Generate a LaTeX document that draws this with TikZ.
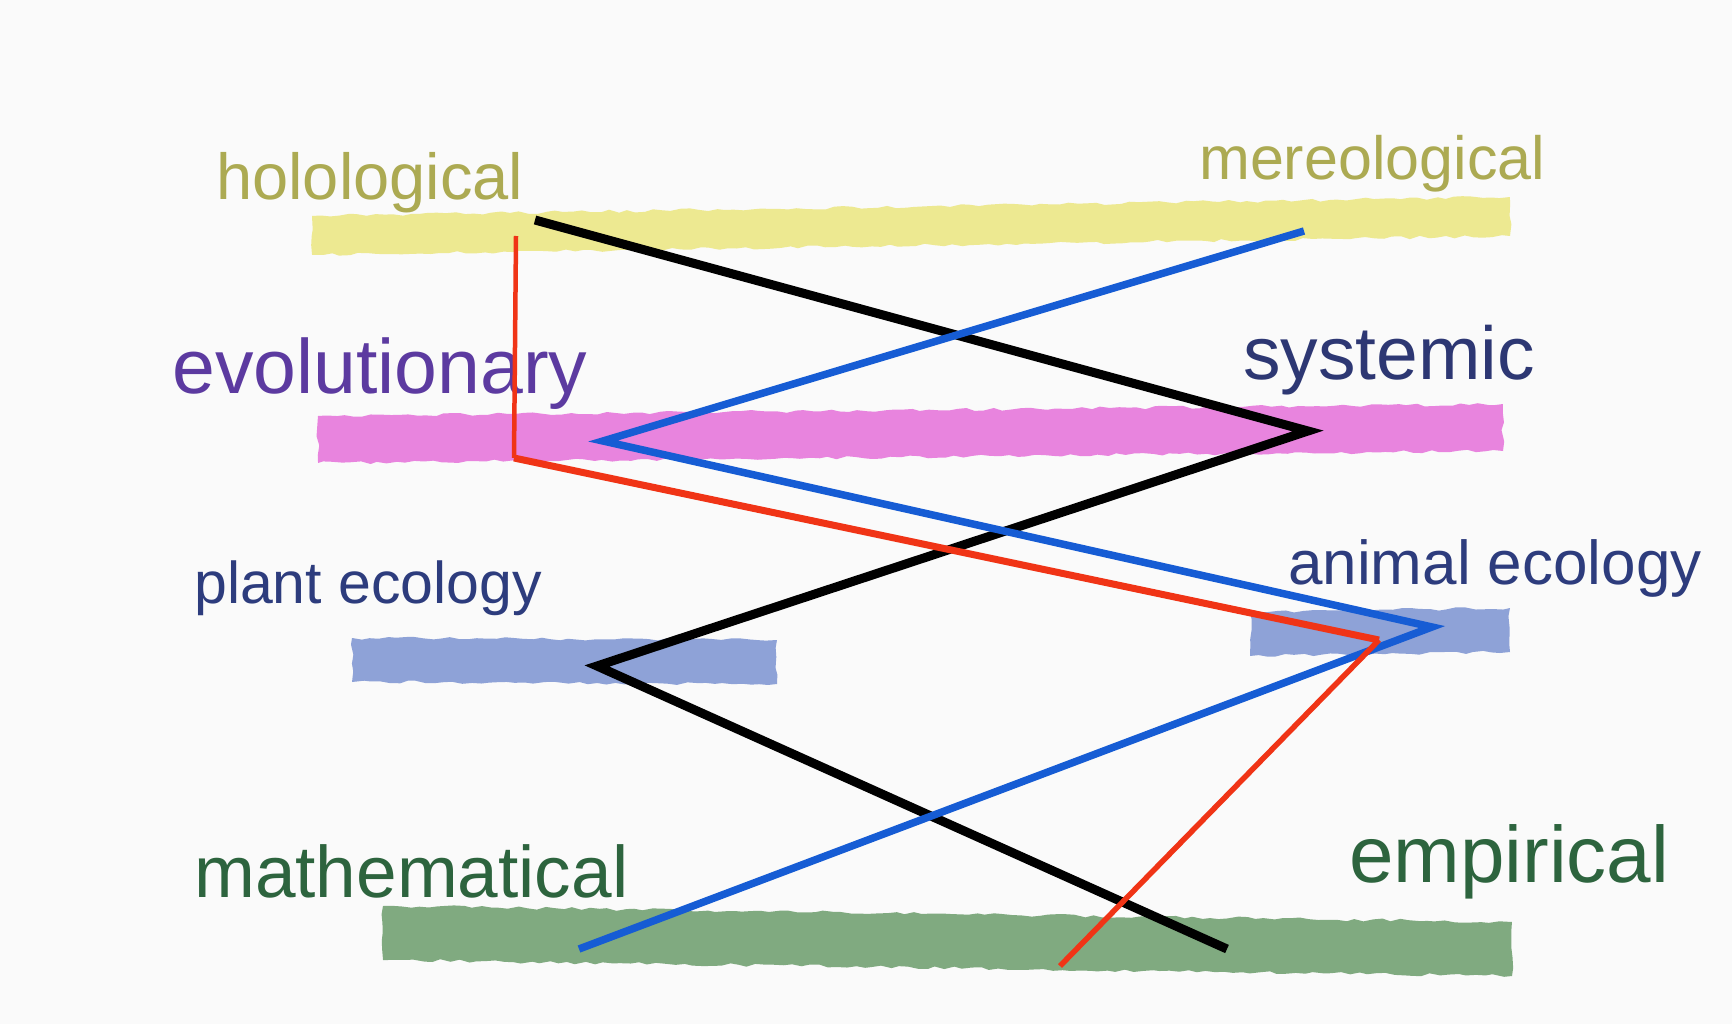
\documentclass[tikz,border=0pt]{standalone}
\usepackage{fontspec}
\usetikzlibrary{decorations.pathmorphing}
\setmainfont{Liberation Sans}
\definecolor{paper}{RGB}{250,250,250}
\definecolor{holoband}{RGB}{237,233,145}
\definecolor{holotext}{RGB}{172,170,82}
\definecolor{evoband}{RGB}{232,132,222}
\definecolor{evotext}{RGB}{92,58,160}
\definecolor{systext}{RGB}{45,55,115}
\definecolor{ecoband}{RGB}{142,162,215}
\definecolor{ecotext}{RGB}{45,60,125}
\definecolor{mathband}{RGB}{128,170,128}
\definecolor{mathtext}{RGB}{45,100,62}
\definecolor{linkblue}{RGB}{22,92,212}
\definecolor{linkred}{RGB}{240,52,22}
\begin{document}
\begin{tikzpicture}[x=1pt,y=-1pt,
    crayon/.style={decorate, decoration={random steps, segment length=9pt, amplitude=1.6pt}},
    lab/.style={anchor=west, inner sep=0pt},
    link/.style={line join=miter, line cap=butt}]
    \pgfmathsetseed{7}
    \fill[paper] (0,0) rectangle (1732,1024);
    % coloured bands
    \fill[crayon, holoband] (312,216) -- (1510,197) -- (1510,236) -- (312,255) -- cycle;
    \fill[crayon, evoband] (318,416) -- (1503,404) -- (1503,451) -- (318,463) -- cycle;
    \fill[crayon, ecoband] (352,638) -- (777,640) -- (777,684) -- (352,682) -- cycle;
    \fill[crayon, ecoband] (1250,612) -- (1510,608) -- (1510,652) -- (1250,656) -- cycle;
    \fill[crayon, mathband] (383,906) -- (1512,922) -- (1512,976) -- (383,960) -- cycle;
    % labels
    \node[lab, holotext] (holo) at (216,183) {\fontsize{65}{70}\selectfont holological};
    \node[lab, holotext] (mereo) at (1199,164) {\fontsize{61}{66}\selectfont mereological};
    \node[lab, evotext] (evo) at (172,374) {\fontsize{77}{82}\selectfont evolutionary};
    \node[lab, systext] (sys) at (1243,360) {\fontsize{75}{80}\selectfont systemic};
    \node[lab, ecotext] (plant) at (194,588) {\fontsize{59}{64}\selectfont plant ecology};
    \node[lab, ecotext] (animal) at (1288,568) {\fontsize{62}{67}\selectfont animal ecology};
    \node[lab, mathtext] (math) at (194,871) {\fontsize{73}{78}\selectfont mathematical};
    \node[lab, mathtext] (emp) at (1349,862) {\fontsize{80}{85}\selectfont empirical};
    % points where the links meet the bands
    \coordinate (k1) at (535,220);
    \coordinate (k2) at (1308,431);
    \coordinate (k3) at (597,666);
    \coordinate (k4) at (1227,949);
    \coordinate (b1) at (1304,231);
    \coordinate (b2) at (603,441);
    \coordinate (b3) at (1432,627);
    \coordinate (b4) at (579,949);
    \coordinate (r1) at (516,236);
    \coordinate (r2) at (514,458);
    \coordinate (r3) at (1379,640);
    \coordinate (r4) at (1060,966);
    % links
    \draw[link, black, line width=9pt] (k1) -- (k2) -- (k3) -- (k4);
    \draw[link, linkblue, line width=7.5pt] (b1) -- (b2) -- (b3) -- (b4);
    \draw[link, linkred, line width=4.5pt] (r1) -- (r2);
    \draw[link, linkred, line width=7pt] (r2) -- (r3);
    \draw[link, linkred, line width=5.5pt] (r3) -- (r4);
\end{tikzpicture}
\end{document}
